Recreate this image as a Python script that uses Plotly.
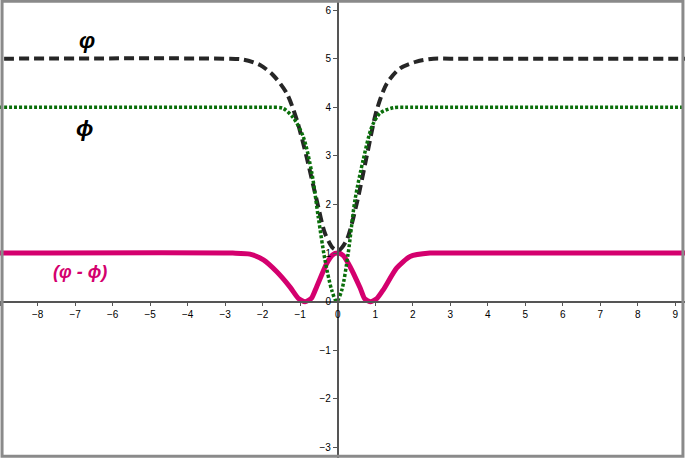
import plotly.graph_objects as go

# values
phi_x = [-9.3, -3.0, -2.5, -2.07, -1.72, -1.36, -1.09, -0.83, -0.56, -0.34, -0.12,
         0.03, 0.24, 0.51, 0.77, 1.04, 1.31, 1.66, 2.1, 2.55, 3.0, 9.4]
phi_y = [5, 5, 4.98, 4.87, 4.66, 4.29, 3.74, 2.98, 2.09, 1.41, 1.10,
         1.06, 1.27, 2.03, 2.98, 3.94, 4.49, 4.80, 4.94, 5.0, 5, 5]

varphi_x = [-9.3, -2.5, -1.8, -1.46, -1.18, -0.92, -0.69, -0.52, -0.34, -0.16, -0.03,
            0.11, 0.28, 0.46, 0.68, 0.91, 1.13, 1.48, 1.8, 2.5, 9.4]
varphi_y = [4, 4, 4, 3.98, 3.78, 3.40, 2.65, 1.75, 0.86, 0.24, 0.0,
            0.24, 1.0, 2.09, 2.92, 3.6, 3.88, 3.99, 4, 4, 4]

diff_x = [-9.3, -2.8, -2.34, -1.98, -1.63, -1.27, -1.05, -0.87, -0.7, -0.56, -0.29, -0.14, 0.0,
          0.15, 0.33, 0.6, 0.72, 0.88, 1.05, 1.22, 1.57, 1.93, 2.46, 2.8, 9.4]
diff_y = [1, 1, 0.98, 0.86, 0.62, 0.30, 0.07, 0.0, 0.07, 0.31, 0.79, 0.96, 1.0,
          0.95, 0.72, 0.28, 0.06, 0.0, 0.07, 0.25, 0.69, 0.93, 1.0, 1, 1]

x_ticks = list(range(-9, 10))
y_ticks = list(range(-3, 7))

x_range = [-9.005, 9.261]
y_range = [-3.216, 6.208]

fig = go.Figure()

fig.add_trace(go.Scatter(
    x=diff_x, y=diff_y, mode='lines',
    line=dict(color='#d4006e', width=5, shape='spline', smoothing=0.6),
))
fig.add_trace(go.Scatter(
    x=phi_x, y=phi_y, mode='lines',
    line=dict(color='#262626', width=4, dash='10px,5px', shape='spline', smoothing=0.8),
))
fig.add_trace(go.Scatter(
    x=varphi_x, y=varphi_y, mode='lines',
    line=dict(color='#0a6e0a', width=3.5, dash='3px,2px', shape='spline', smoothing=0.8),
))

# curve labels
label_font = dict(family='Liberation Sans, Arial, sans-serif', size=23, color='black')
fig.add_annotation(x=-6.69, y=5.38, text='<b><i>φ</i></b>', showarrow=False, font=label_font)
fig.add_annotation(x=-6.74, y=3.57, text='<b><i>ϕ</i></b>', showarrow=False, font=label_font)
fig.add_annotation(x=-6.87, y=0.61, text='<b><i>(φ - ϕ)</i></b>', showarrow=False,
                   font=dict(family='Liberation Sans, Arial, sans-serif', size=18, color='#d4006e'))

# axes cross at the origin
x_pos = (0 - y_range[0]) / (y_range[1] - y_range[0])
y_pos = (0 - x_range[0]) / (x_range[1] - x_range[0])

axis_font = dict(family='Liberation Sans, Arial, sans-serif', size=10, color='black')
fig.update_xaxes(
    range=x_range, tickvals=x_ticks, showgrid=False, zeroline=False,
    showline=True, linecolor='#555555', linewidth=1.5,
    ticks='outside', ticklen=4, tickcolor='#555555',
    anchor='free', position=x_pos, tickfont=axis_font, automargin=False,
)
fig.update_yaxes(
    range=y_range, tickvals=y_ticks, showgrid=False, zeroline=False,
    showline=True, linecolor='#555555', linewidth=1.5,
    ticks='outside', ticklen=4, tickcolor='#555555',
    anchor='free', position=y_pos, tickfont=axis_font, automargin=False,
)

# grey frame round the picture
fig.add_shape(type='rect', xref='paper', yref='paper', x0=0.003, x1=0.997, y0=0.004, y1=0.997,
              line=dict(color='#8a8a8a', width=3))

fig.update_layout(
    width=685, height=458,
    margin=dict(l=0, r=0, t=0, b=0, autoexpand=False),
    paper_bgcolor='white', plot_bgcolor='white',
    showlegend=False,
)

# drop the page's default body margin so the figure sits at the window corner
fig.write_html('out.html', config={'displayModeBar': False},
               post_script="document.body.style.margin='0';")
